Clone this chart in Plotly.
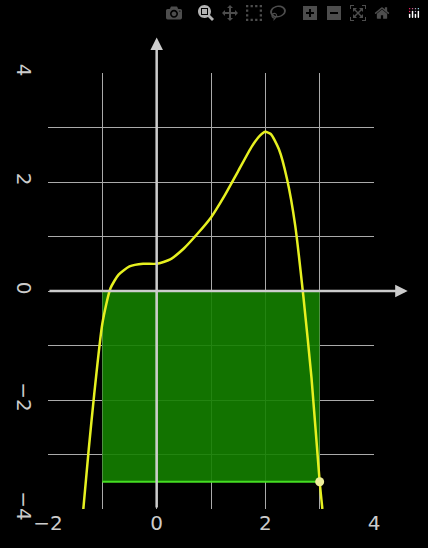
import plotly.graph_objects as go

# curve points
curve_x = [-1.35, -1.25, -1.15, -1.0, -0.85, -0.7, -0.5, -0.25, 0.0, 0.25, 0.5, 0.75, 1.0, 1.25, 1.5, 1.75, 1.9, 2.0, 2.1, 2.25, 2.4, 2.55, 2.7, 2.85, 3.0, 3.05]
curve_y = [-4.0, -2.9, -1.9, -0.6, 0.05, 0.3, 0.45, 0.5, 0.5, 0.58, 0.78, 1.05, 1.35, 1.75, 2.2, 2.65, 2.85, 2.92, 2.88, 2.6, 2.05, 1.2, -0.1, -1.6, -3.5, -4.0]

rect_x = [-1, 3]
rect_y = [0, -3.5]
point = (3, -3.5)

xticks = [-2, 0, 2, 4]
yticks = [-4, -2, 0, 2, 4]

fig = go.Figure()

fig.add_trace(go.Scatter(
    x=[rect_x[0], rect_x[1], rect_x[1], rect_x[0], rect_x[0]],
    y=[rect_y[0], rect_y[0], rect_y[1], rect_y[1], rect_y[0]],
    fill='toself', fillcolor='rgba(20,128,0,0.9)', mode='lines',
    line=dict(width=0), hoverinfo='skip'))
fig.add_trace(go.Scatter(x=rect_x, y=[rect_y[1], rect_y[1]], mode='lines',
                         line=dict(color='#44dd22', width=2)))
fig.add_trace(go.Scatter(x=[0, 0], y=[0, rect_y[1]], mode='lines',
                         line=dict(color='#66cc44', width=2)))
fig.add_trace(go.Scatter(x=curve_x, y=curve_y, mode='lines',
                         line=dict(color='#e6f020', width=2.5, shape='spline', smoothing=0.6)))
fig.add_trace(go.Scatter(x=[point[0]], y=[point[1]], mode='markers',
                         marker=dict(color='#eeee99', size=9), cliponaxis=False))

# axis arrows
fig.add_annotation(x=4.62, y=0, ax=-2, ay=0, xref='x', yref='y', axref='x', ayref='y',
                   showarrow=True, arrowhead=2, arrowsize=1, arrowwidth=2.5, arrowcolor='#cccccc', text='')
fig.add_annotation(x=0, y=4.65, ax=0, ay=-4, xref='x', yref='y', axref='x', ayref='y',
                   showarrow=True, arrowhead=2, arrowsize=1, arrowwidth=2.5, arrowcolor='#cccccc', text='')
fig.add_annotation(x=4.78, y=0, xref='x', yref='y', text='X', showarrow=False,
                   font=dict(color='#cccccc', size=22))
fig.add_annotation(x=0, y=5.05, xref='x', yref='y', text='Y', showarrow=False,
                   font=dict(color='#cccccc', size=22))

fig.update_layout(
    width=428, height=548, showlegend=False,
    paper_bgcolor='black', plot_bgcolor='black',
    margin=dict(l=44, r=54, t=73, b=39),
    font=dict(family='DejaVu Sans', color='#cccccc', size=20),
)
fig.update_xaxes(range=[-2, 4], tickvals=xticks, showgrid=True,
                 gridcolor='#aaaaaa', gridwidth=1, zeroline=False,
                 showline=False, tickfont=dict(size=20))
fig.update_yaxes(range=[-4, 4], tickvals=yticks, showgrid=True,
                 gridcolor='#aaaaaa', gridwidth=1, zeroline=False,
                 showline=False, tickangle=90, ticklabelstandoff=10, tickfont=dict(size=20))
# grid at every unit
fig.update_xaxes(minor=dict(dtick=1, showgrid=True, gridcolor='#aaaaaa', gridwidth=1))
fig.update_yaxes(minor=dict(dtick=1, showgrid=True, gridcolor='#aaaaaa', gridwidth=1))

fig.write_html("out.html",
               post_script="document.body.style.margin='0';document.body.style.background='black';")
